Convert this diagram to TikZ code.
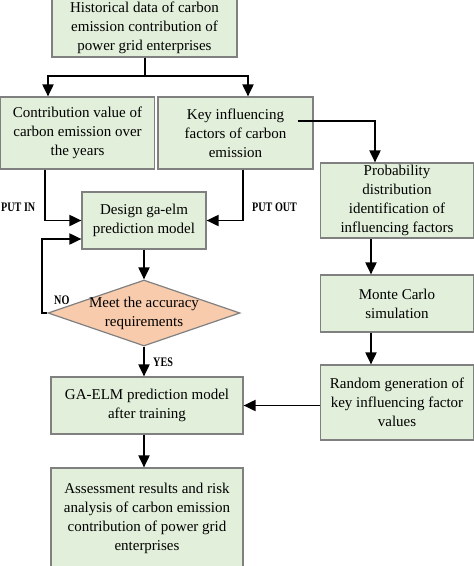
\documentclass[tikz,border=0pt]{standalone}
\usepackage{fontspec}
\setmainfont{Liberation Serif}
\newfontfamily\tagfont[FakeStretch=0.78]{Liberation Serif}
\usetikzlibrary{arrows.meta,shapes.geometric}

\definecolor{boxgreen}{RGB}{226,239,218}
\definecolor{boxedge}{RGB}{128,128,128}
\definecolor{decfill}{RGB}{248,203,173}

\tikzset{
  box/.style={draw=boxedge, line width=1.2pt, fill=boxgreen, align=center,
    inner sep=0pt, font=\fontsize{15}{19}\selectfont},
  decision/.style={diamond, draw=boxedge, line width=1.2pt, fill=decfill,
    inner sep=0pt, minimum width=192pt, minimum height=66pt},
  dectext/.style={align=center, inner sep=0pt, font=\fontsize{15}{19}\selectfont},
  arr/.style={line width=1.9pt, -{Triangle[length=12pt,width=11pt]}},
  tag/.style={font=\tagfont\bfseries\fontsize{13}{13}\selectfont, inner sep=0pt}
}

\begin{document}
\begin{tikzpicture}[x=1pt, y=-1pt]
    \useasboundingbox (0,0) rectangle (474,566);

    % Draw the boxes
    \node[box, minimum width=185pt, minimum height=58pt] (hist) at (144.5,28)
      {Historical data of carbon\\emission contribution of\\power grid enterprises};
    \node[box, minimum width=154pt, minimum height=72pt] (contrib) at (77.5,133)
      {Contribution value of\\carbon emission over\\the years};
    \node[box, minimum width=155pt, minimum height=72pt] (key) at (235.5,133)
      {Key influencing\\factors of carbon\\emission};
    \node[box, minimum width=153pt, minimum height=75pt] (prob) at (397,200.5)
      {Probability\\distribution\\identification of\\influencing factors};
    \node[box, minimum width=124pt, minimum height=57pt] (design) at (144,220.5)
      {Design ga-elm\\prediction model};
    \node[decision, label={[dectext]center:{Meet the accuracy\\requirements}}] (dec) at (144,313) {};
    \node[box, minimum width=153pt, minimum height=57pt] (monte) at (397,303.5)
      {Monte Carlo\\simulation};
    \node[box, minimum width=153pt, minimum height=75pt] (random) at (397,402.5)
      {Random generation of\\key influencing factor\\values};
    \node[box, minimum width=192pt, minimum height=57pt] (gaelm) at (147,405.5)
      {GA-ELM prediction model\\after training};
    \node[box, minimum width=192pt, minimum height=100pt] (assess) at (147,518)
      {Assessment results and risk\\analysis of carbon emission\\contribution of power grid\\enterprises};

    % Labels
    \node[tag, anchor=west] (putin) at (1,207) {PUT IN};
    \node[tag, anchor=west] (putout) at (252,207) {PUT OUT};
    \node[tag, anchor=west] (no) at (54,300) {NO};
    \node[tag, anchor=west] (yes) at (153,362) {YES};

    % Draw the arrows
    \coordinate (split) at (145,76);
    \draw[line width=1.9pt] (hist.south -| split) -- (split);
    \draw[arr] (split) -| ([xshift=-29.5pt]contrib.north);
    \draw[arr] (split) -| ([xshift=12.5pt]key.north);
    \draw[arr] ([xshift=-16pt,yshift=12pt]key.east) -| ([xshift=-22pt]prob.north);
    \draw[arr] ([xshift=-32.5pt]contrib.south) |- (design.west);
    \draw[arr] ([xshift=7.5pt]key.south) |- (design.east);
    \draw[arr] (design) -- (dec);
    \draw[arr] (dec.west) -- ++(-5,0) |- ([yshift=-18.5pt]design.west);
    \draw[arr] (dec.south) -- (dec.south |- gaelm.north);
    \draw[arr] (gaelm.south -| dec.south) -- (dec.south |- assess.north);
    \draw[arr] ([xshift=-26pt]prob.south) -- ([xshift=-26pt]monte.north);
    \draw[arr] ([xshift=-26pt]monte.south) -- ([xshift=-26pt]random.north);
    \draw[arr] (random.west |- gaelm.east) -- (gaelm.east);

\end{tikzpicture}
\end{document}
